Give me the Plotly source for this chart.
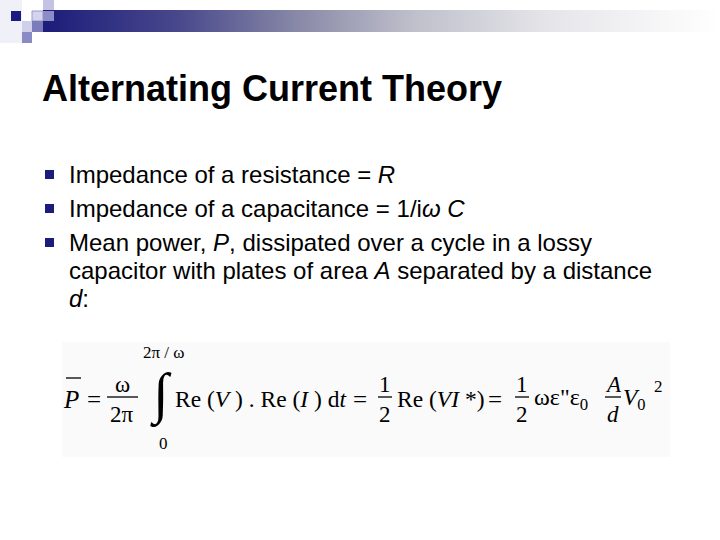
import plotly.graph_objects as go

# slide content
title_text = "Alternating Current Theory"
bullet_lines = [
    "Impedance of a resistance = <i>R</i>",
    "Impedance of a capacitance = 1/i<i>ω C</i>",
    "Mean power, <i>P</i>, dissipated over a cycle in a lossy",
    "capacitor with plates of area <i>A</i> separated by a distance",
    "<i>d</i>:",
]
bullet_y = [174, 208, 242, 270, 298]
bullet_has_marker = [True, True, True, False, False]

navy = "#1c1c7a"
serif = "Liberation Serif, Times New Roman, serif"
sans = "Liberation Sans, Arial, sans-serif"

fig = go.Figure()

# gradient header bar
fig.add_trace(go.Scatter(
    x=[43, 720, 720, 43, 43], y=[10, 10, 32, 32, 10],
    mode="lines", line=dict(width=0), fill="toself",
    fillgradient=dict(type="horizontal", colorscale=[
        [0, "#1c1c7a"], [0.2, "#48488c"], [0.38, "#8a8aa8"],
        [0.55, "#c0c0cc"], [0.75, "#e6e6ea"], [1, "#ffffff"]]),
    hoverinfo="skip", showlegend=False,
))

shapes = []


def rect(x0, y0, x1, y1, color, line=None):
    shapes.append(dict(type="rect", xref="x", yref="y", x0=x0, y0=y0, x1=x1, y1=y1,
                       fillcolor=color, line=dict(width=0 if line is None else 1,
                                                  color=line or color), layer="above"))


# decorative squares, top left
rect(0, 0, 22, 43, "#f0f0f8")
rect(11, 11, 21, 21, "#1a1a80")
rect(43, 0, 54, 10, "#c4c4e2")
rect(32, 11, 43, 21, "#d4d4ec", "#9898c8")
rect(43, 11, 54, 21, "#8c8cc6")
rect(32, 21, 43, 32, "#7c7cbc")
rect(22, 21, 32, 32, "#d0d0ea")
rect(22, 32, 32, 43, "#8a8ac4")

# equation background
shapes.append(dict(type="rect", x0=62, y0=342, x1=670, y1=457,
                   fillcolor="#fafafa", line=dict(width=0), layer="below"))

annotations = []


def txt(x, y, s, size, font=sans, anchor="left", color="black"):
    annotations.append(dict(x=x, y=y, xref="x", yref="y", text=s, showarrow=False,
                            xanchor=anchor, yanchor="middle",
                            font=dict(family=font, size=size, color=color)))


def hline(x0, x1, y, w=1.3):
    shapes.append(dict(type="line", x0=x0, x1=x1, y0=y, y1=y,
                       line=dict(color="black", width=w)))


# title
txt(40, 88, "<b>" + title_text + "</b>", 36)

# bullets
for text, y, marker in zip(bullet_lines, bullet_y, bullet_has_marker):
    if marker:
        rect(45, y - 4, 54, y + 5, navy)
    txt(67, y, text, 24)

# equation
ey = 399
txt(61, ey, "<i>P</i>", 25, serif)
hline(66, 81, 378)
txt(85, ey, "=", 25, serif)
txt(122, 384, "ω", 23, serif, "center")
hline(107, 138, 397)
txt(122, 414, "2π", 23, serif, "center")
txt(161, 395, "∫", 56, serif, "center")
txt(164, 352, "2π / ω", 17, serif, "center")
txt(163, 443, "0", 17, serif, "center")
txt(173, ey, "Re (<i>V</i> ) . Re (<i>I</i> ) d<i>t</i>", 23.5, serif)
txt(351, ey, "=", 25, serif)
txt(385, 384, "1", 23, serif, "center")
hline(378, 392, 397)
txt(385, 414, "2", 23, serif, "center")
txt(395, ey, "Re (<i>VI</i> *)", 23.5, serif)
txt(486, ey, "=", 25, serif)
txt(522, 384, "1", 23, serif, "center")
hline(515, 529, 397)
txt(522, 414, "2", 23, serif, "center")
txt(532, ey, "ωε\"ε<sub>0</sub>", 24, serif)
txt(613, 384, "<i>A</i>", 23, serif, "center")
hline(605, 621, 397)
txt(613, 414, "<i>d</i>", 23, serif, "center")
txt(621, ey, "<i>V</i><sub>0</sub>", 23.5, serif)
txt(658, 386, "2", 17, serif, "center")

fig.update_layout(
    width=720, height=540,
    margin=dict(l=0, r=0, t=0, b=0),
    paper_bgcolor="white", plot_bgcolor="white",
    xaxis=dict(range=[0, 720], visible=False, fixedrange=True),
    yaxis=dict(range=[540, 0], visible=False, fixedrange=True),
    shapes=shapes, annotations=annotations,
    showlegend=False,
)

fig.write_html("out.html", config={"displayModeBar": False},
               post_script="document.body.style.margin='0';")
